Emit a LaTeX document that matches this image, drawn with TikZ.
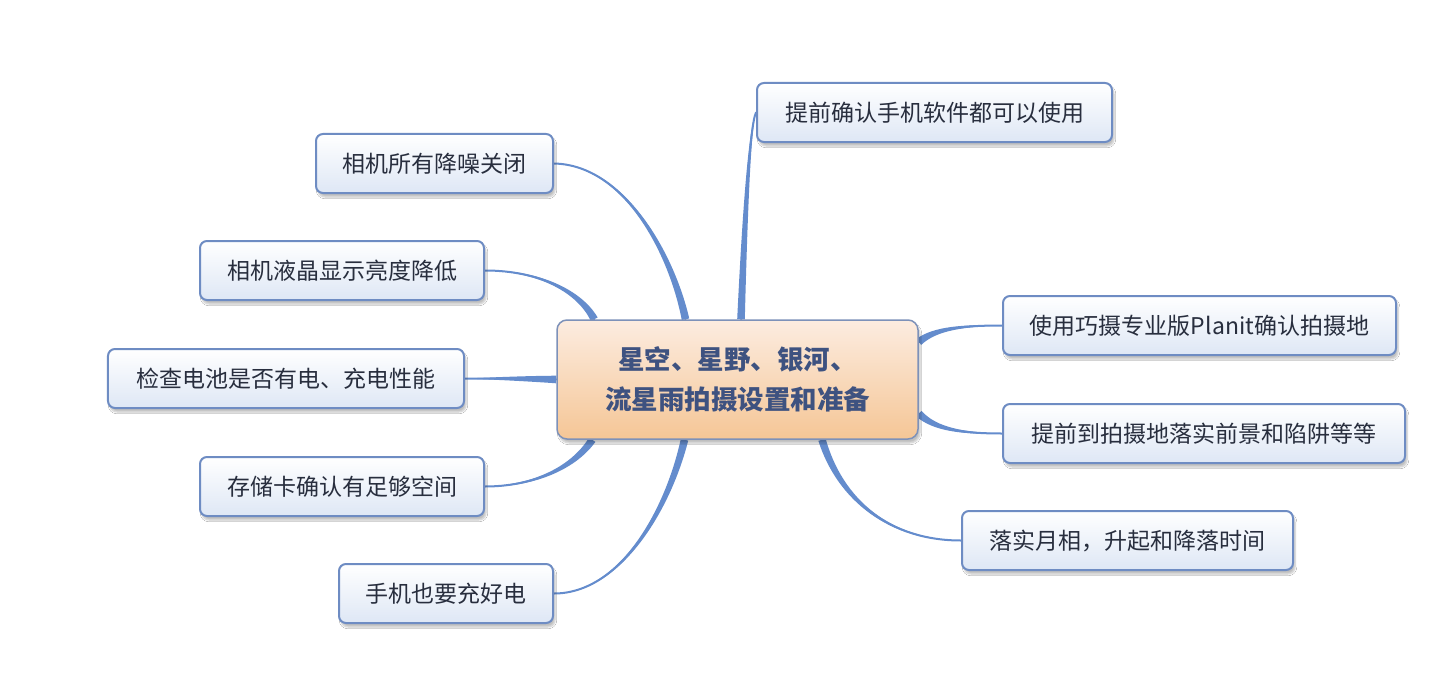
\documentclass[tikz,border=0pt]{standalone}
\usepackage{fontspec}
\newfontfamily\cjk{Noto Sans CJK SC}
\usetikzlibrary{calc,backgrounds,shadows.blur}
\definecolor{brcol}{RGB}{100,140,205}
\definecolor{leafborder}{RGB}{110,140,195}
\definecolor{leafbot}{RGB}{222,231,245}
\definecolor{ctrborder}{RGB}{125,145,185}
\definecolor{ctrtop}{RGB}{252,236,224}
\definecolor{ctrbot}{RGB}{245,198,150}
\definecolor{leaftext}{RGB}{40,46,62}
\definecolor{ctrtext}{RGB}{62,82,128}
\tikzset{
  leaf/.style={draw=leafborder, line width=2bp, rounded corners=7bp,
    top color=white, bottom color=leafbot, minimum height=59bp, inner sep=0pt,
    text=leaftext, font=\cjk\fontsize{23bp}{27bp}\selectfont,
    blur shadow={shadow xshift=2bp, shadow yshift=-4bp, shadow opacity=25, shadow blur steps=6}},
  ctrbox/.style={draw=ctrborder, line width=1.5bp, rounded corners=10bp,
    top color=ctrtop, bottom color=ctrbot, minimum width=361bp, minimum height=119bp,
    inner sep=0pt, align=center, text=ctrtext,
    font=\cjk\bfseries\fontsize{26.5bp}{40bp}\selectfont,
    blur shadow={shadow xshift=2bp, shadow yshift=-4bp, shadow opacity=25, shadow blur steps=6}},
  brfill/.style={fill=brcol},
  brline/.style={draw=brcol, line width=2bp, line cap=round},
}
\newcommand\branch[4]{%
  \fill[brfill] ($(#1)!3.8bp!90:(#2)$) .. controls ($(#2)!2.6bp!-90:(#1)$) and ($(#3)!1.2bp!90:(#4)$) .. (#4)
     .. controls ($(#3)!1.2bp!-90:(#4)$) and ($(#2)!2.6bp!90:(#1)$) .. ($(#1)!3.8bp!-90:(#2)$) -- cycle;
  \draw[brline] (#1) .. controls (#2) and (#3) .. (#4);}
\begin{document}
\begin{tikzpicture}[x=1bp,y=-1bp]
\useasboundingbox (0,0) rectangle (1440,695);

\node[ctrbox] (ctr) at (737.5,379.5) {星空、星野、银河、\\流星雨拍摄设置和准备};

\node[leaf, minimum width=355bp] (l1) at (934.5,112.5) {提前确认手机软件都可以使用};
\node[leaf, minimum width=237bp] (l2) at (434.5,163.5) {相机所有降噪关闭};
\node[leaf, minimum width=284bp] (l3) at (342,270.5) {相机液晶显示亮度降低};
\node[leaf, minimum width=356bp] (l4) at (286,378.5) {检查电池是否有电、充电性能};
\node[leaf, minimum width=284bp] (l5) at (342,486.5) {存储卡确认有足够空间};
\node[leaf, minimum width=214bp] (l6) at (446,593.5) {手机也要充好电};
\node[leaf, minimum width=393bp] (l7) at (1199.5,325.5) {使用巧摄专业版Planit确认拍摄地};
\node[leaf, minimum width=402bp] (l8) at (1204,433.5) {提前到拍摄地落实前景和陷阱等等};
\node[leaf, minimum width=331bp] (l9) at (1127.5,540.5) {落实月相，升起和降落时间};

\coordinate (s1) at ([xshift=3.5bp]ctr.north);
\coordinate (s2) at ([xshift=-52bp]ctr.north);
\coordinate (s3) at ([xshift=38bp]ctr.north west);
\coordinate (s4) at (ctr.west);
\coordinate (s5) at ([xshift=36bp]ctr.south west);
\coordinate (s6) at ([xshift=-53bp]ctr.south);
\coordinate (s7) at ([yshift=37.5bp]ctr.east);
\coordinate (s8) at ([yshift=-34bp]ctr.east);
\coordinate (s9) at ([xshift=84.5bp]ctr.south);

\begin{scope}[on background layer]
\fill[white] (0,0) rectangle (1440,695);
\branch{s1}{745,210}{750,125}{l1.west}
\branch{s2}{672,255}{625,165}{l2.east}
\branch{s3}{580,292}{540,270.5}{l3.east}
\branch{s4}{525,378.5}{495,378.5}{l4.east}
\branch{s5}{572,470}{530,486.5}{l5.east}
\branch{s6}{668,510}{620,593.5}{l6.east}
\branch{s7}{935,328}{965,325.5}{l7.west}
\branch{s8}{935,430}{965,433.5}{l8.west}
\branch{s9}{840,500}{890,540.5}{l9.west}
\end{scope}
\end{tikzpicture}
\end{document}
